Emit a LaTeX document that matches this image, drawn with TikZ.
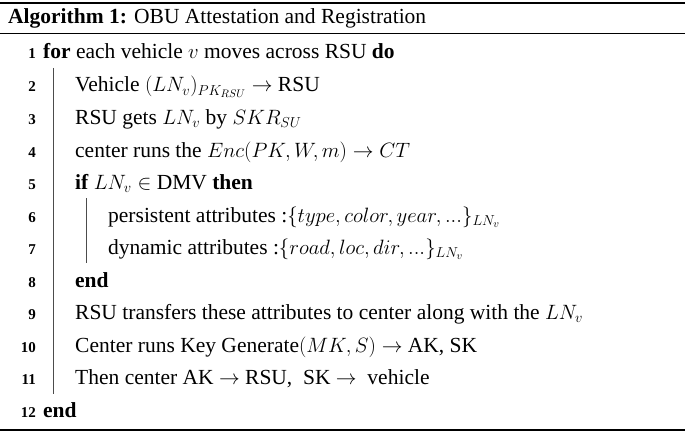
\documentclass[tikz,border=0pt]{standalone}
\usepackage{fontspec}
\setmainfont{Liberation Serif}
\begin{document}
\begin{tikzpicture}[x=1pt,y=-1pt,
  txt/.style={anchor=base west,inner sep=0pt,font=\fontsize{21.5}{24}\selectfont},
  num/.style={anchor=base east,inner sep=0pt,font=\fontsize{15}{17}\selectfont\bfseries}]
\useasboundingbox (0,0) rectangle (685,436);
\draw[line width=1.6pt] (0,3) -- (685,3);
\draw[line width=0.8pt] (0,33) -- (685,33);
\draw[line width=1.6pt] (0,430) -- (685,430);
\node[txt] (t) at (8,24) {\textbf{Algorithm 1:} OBU Attestation and Registration};
\foreach \n/\y in {1/59,2/92,3/124,4/157,5/189,6/222,7/254,8/287,9/319,10/352,11/384,12/417}
  \node[num] (n\n) at (36,\y) {\n};
\node[txt] (l1) at (43,59) {\textbf{for} each vehicle $v$ moves across RSU \textbf{do}};
\node[txt] (l2) at (75,92) {Vehicle $(LN_v)_{PK_{RSU}}\rightarrow$ RSU};
\node[txt] (l3) at (75,124) {RSU gets $LN_v$ by $SKR_{SU}$};
\node[txt] (l4) at (75,157) {center runs the $Enc(PK,W,m)\rightarrow CT$};
\node[txt] (l5) at (75,189) {\textbf{if} $LN_v\in$ DMV \textbf{then}};
\node[txt] (l6) at (108,222) {persistent attributes :$\{type,color,year,...\}_{LN_v}$};
\node[txt] (l7) at (108,254) {dynamic attributes :$\{road,loc,dir,...\}_{LN_v}$};
\node[txt] (l8) at (75,287) {\textbf{end}};
\node[txt] (l9) at (75,319) {RSU transfers these attributes to center along with the $LN_v$};
\node[txt] (l10) at (75,352) {Center runs Key Generate$(MK,S)\rightarrow$ AK, SK};
\node[txt] (l11) at (75,384) {Then center AK $\rightarrow$ RSU,\ \ SK $\rightarrow$\ \ vehicle};
\node[txt] (l12) at (43,417) {\textbf{end}};
\draw[line width=0.8pt,black!70] (53,68) -- (53,394);
\draw[line width=0.8pt,black!70] (86,198) -- (86,263);
\end{tikzpicture}
\end{document}
